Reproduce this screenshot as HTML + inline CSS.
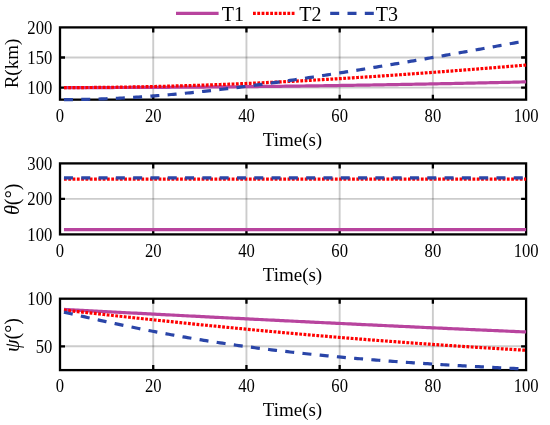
<!DOCTYPE html><html><head><meta charset="utf-8"><style>html,body{margin:0;padding:0;background:#fff;}svg{display:block;}text{font-family:"Liberation Serif","Times New Roman",serif;fill:#000;}</style></head><body>
<svg width="550" height="425" viewBox="0 0 550 425">
<rect width="550" height="425" fill="#fff"/>
<g stroke="rgba(40,40,40,0.24)" stroke-width="1.9" fill="none"><path d="M153.22,27.40V99.65"/><path d="M246.44,27.40V99.65"/><path d="M339.66,27.40V99.65"/><path d="M432.88,27.40V99.65"/><path d="M60.00,87.61H526.10"/><path d="M60.00,57.50H526.10"/></g>
<path d="M153.22,99.65V94.65M153.22,27.40V32.40M246.44,99.65V94.65M246.44,27.40V32.40M339.66,99.65V94.65M339.66,27.40V32.40M432.88,99.65V94.65M432.88,27.40V32.40M60.00,87.61H65.00M526.10,87.61H521.10M60.00,57.50H65.00M526.10,57.50H521.10" stroke="#000" stroke-width="2.3" fill="none"/>
<rect x="60.00" y="27.40" width="466.10" height="72.25" fill="none" stroke="#000" stroke-width="2.3"/>
<g fill="none" stroke-width="3.2">
<path d="M63.96,87.61 L66.29,87.61 L68.62,87.61 L70.95,87.61 L73.28,87.60 L75.61,87.60 L77.94,87.60 L80.28,87.60 L82.61,87.59 L84.94,87.59 L87.27,87.59 L89.60,87.58 L91.93,87.58 L94.26,87.58 L96.59,87.57 L98.92,87.57 L101.25,87.56 L103.58,87.56 L105.91,87.55 L108.24,87.54 L110.57,87.54 L112.90,87.53 L115.23,87.52 L117.56,87.52 L119.89,87.51 L122.22,87.50 L124.55,87.49 L126.89,87.49 L129.22,87.48 L131.55,87.47 L133.88,87.46 L136.21,87.45 L138.54,87.44 L140.87,87.43 L143.20,87.42 L145.53,87.41 L147.86,87.40 L150.19,87.38 L152.52,87.37 L154.85,87.36 L157.18,87.35 L159.51,87.34 L161.84,87.32 L164.17,87.31 L166.50,87.30 L168.83,87.28 L171.16,87.27 L173.50,87.25 L175.83,87.24 L178.16,87.22 L180.49,87.21 L182.82,87.19 L185.15,87.18 L187.48,87.16 L189.81,87.15 L192.14,87.13 L194.47,87.11 L196.80,87.09 L199.13,87.08 L201.46,87.06 L203.79,87.04 L206.12,87.02 L208.45,87.00 L210.78,86.98 L213.11,86.97 L215.44,86.95 L217.77,86.93 L220.11,86.91 L222.44,86.89 L224.77,86.86 L227.10,86.84 L229.43,86.82 L231.76,86.80 L234.09,86.78 L236.42,86.76 L238.75,86.73 L241.08,86.71 L243.41,86.69 L245.74,86.66 L248.07,86.64 L250.40,86.62 L252.73,86.59 L255.06,86.57 L257.39,86.54 L259.72,86.52 L262.05,86.49 L264.38,86.47 L266.72,86.44 L269.05,86.42 L271.38,86.39 L273.71,86.36 L276.04,86.34 L278.37,86.31 L280.70,86.28 L283.03,86.25 L285.36,86.22 L287.69,86.20 L290.02,86.17 L292.35,86.14 L294.68,86.11 L297.01,86.08 L299.34,86.05 L301.67,86.02 L304.00,85.99 L306.33,85.96 L308.66,85.93 L310.99,85.90 L313.33,85.86 L315.66,85.83 L317.99,85.80 L320.32,85.77 L322.65,85.74 L324.98,85.70 L327.31,85.67 L329.64,85.64 L331.97,85.60 L334.30,85.57 L336.63,85.53 L338.96,85.50 L341.29,85.47 L343.62,85.43 L345.95,85.40 L348.28,85.36 L350.61,85.32 L352.94,85.29 L355.27,85.25 L357.60,85.21 L359.94,85.18 L362.27,85.14 L364.60,85.10 L366.93,85.07 L369.26,85.03 L371.59,84.99 L373.92,84.95 L376.25,84.91 L378.58,84.87 L380.91,84.83 L383.24,84.79 L385.57,84.75 L387.90,84.71 L390.23,84.67 L392.56,84.63 L394.89,84.59 L397.22,84.55 L399.55,84.51 L401.88,84.47 L404.21,84.43 L406.55,84.38 L408.88,84.34 L411.21,84.30 L413.54,84.26 L415.87,84.21 L418.20,84.17 L420.53,84.13 L422.86,84.08 L425.19,84.04 L427.52,83.99 L429.85,83.95 L432.18,83.90 L434.51,83.86 L436.84,83.81 L439.17,83.77 L441.50,83.72 L443.83,83.68 L446.16,83.63 L448.49,83.58 L450.82,83.54 L453.16,83.49 L455.49,83.44 L457.82,83.39 L460.15,83.35 L462.48,83.30 L464.81,83.25 L467.14,83.20 L469.47,83.15 L471.80,83.10 L474.13,83.05 L476.46,83.00 L478.79,82.95 L481.12,82.90 L483.45,82.85 L485.78,82.80 L488.11,82.75 L490.44,82.70 L492.77,82.65 L495.10,82.60 L497.43,82.55 L499.77,82.49 L502.10,82.44 L504.43,82.39 L506.76,82.34 L509.09,82.28 L511.42,82.23 L513.75,82.18 L516.08,82.12 L518.41,82.07 L520.74,82.02 L523.07,81.96 L525.40,81.91 L526.10,81.89" stroke="#b8449e"/>
<path d="M63.96,87.61 L66.29,87.60 L68.62,87.60 L70.95,87.59 L73.28,87.59 L75.61,87.58 L77.94,87.57 L80.28,87.56 L82.61,87.55 L84.94,87.53 L87.27,87.52 L89.60,87.50 L91.93,87.48 L94.26,87.46 L96.59,87.44 L98.92,87.42 L101.25,87.40 L103.58,87.37 L105.91,87.35 L108.24,87.32 L110.57,87.29 L112.90,87.26 L115.23,87.23 L117.56,87.20 L119.89,87.17 L122.22,87.13 L124.55,87.10 L126.89,87.06 L129.22,87.02 L131.55,86.98 L133.88,86.94 L136.21,86.90 L138.54,86.85 L140.87,86.81 L143.20,86.76 L145.53,86.71 L147.86,86.66 L150.19,86.61 L152.52,86.56 L154.85,86.51 L157.18,86.45 L159.51,86.40 L161.84,86.34 L164.17,86.28 L166.50,86.22 L168.83,86.16 L171.16,86.10 L173.50,86.04 L175.83,85.97 L178.16,85.91 L180.49,85.84 L182.82,85.77 L185.15,85.71 L187.48,85.64 L189.81,85.56 L192.14,85.49 L194.47,85.42 L196.80,85.34 L199.13,85.27 L201.46,85.19 L203.79,85.11 L206.12,85.03 L208.45,84.95 L210.78,84.87 L213.11,84.78 L215.44,84.70 L217.77,84.61 L220.11,84.52 L222.44,84.44 L224.77,84.35 L227.10,84.26 L229.43,84.16 L231.76,84.07 L234.09,83.98 L236.42,83.88 L238.75,83.79 L241.08,83.69 L243.41,83.59 L245.74,83.49 L248.07,83.39 L250.40,83.29 L252.73,83.19 L255.06,83.08 L257.39,82.98 L259.72,82.87 L262.05,82.76 L264.38,82.66 L266.72,82.55 L269.05,82.44 L271.38,82.33 L273.71,82.21 L276.04,82.10 L278.37,81.99 L280.70,81.87 L283.03,81.75 L285.36,81.64 L287.69,81.52 L290.02,81.40 L292.35,81.28 L294.68,81.16 L297.01,81.03 L299.34,80.91 L301.67,80.79 L304.00,80.66 L306.33,80.54 L308.66,80.41 L310.99,80.28 L313.33,80.15 L315.66,80.02 L317.99,79.89 L320.32,79.76 L322.65,79.62 L324.98,79.49 L327.31,79.36 L329.64,79.22 L331.97,79.08 L334.30,78.95 L336.63,78.81 L338.96,78.67 L341.29,78.53 L343.62,78.39 L345.95,78.25 L348.28,78.10 L350.61,77.96 L352.94,77.81 L355.27,77.67 L357.60,77.52 L359.94,77.38 L362.27,77.23 L364.60,77.08 L366.93,76.93 L369.26,76.78 L371.59,76.63 L373.92,76.48 L376.25,76.32 L378.58,76.17 L380.91,76.02 L383.24,75.86 L385.57,75.70 L387.90,75.55 L390.23,75.39 L392.56,75.23 L394.89,75.07 L397.22,74.91 L399.55,74.75 L401.88,74.59 L404.21,74.43 L406.55,74.27 L408.88,74.10 L411.21,73.94 L413.54,73.77 L415.87,73.61 L418.20,73.44 L420.53,73.27 L422.86,73.11 L425.19,72.94 L427.52,72.77 L429.85,72.60 L432.18,72.43 L434.51,72.26 L436.84,72.08 L439.17,71.91 L441.50,71.74 L443.83,71.56 L446.16,71.39 L448.49,71.21 L450.82,71.04 L453.16,70.86 L455.49,70.68 L457.82,70.51 L460.15,70.33 L462.48,70.15 L464.81,69.97 L467.14,69.79 L469.47,69.61 L471.80,69.43 L474.13,69.24 L476.46,69.06 L478.79,68.88 L481.12,68.69 L483.45,68.51 L485.78,68.32 L488.11,68.14 L490.44,67.95 L492.77,67.77 L495.10,67.58 L497.43,67.39 L499.77,67.20 L502.10,67.01 L504.43,66.82 L506.76,66.63 L509.09,66.44 L511.42,66.25 L513.75,66.06 L516.08,65.87 L518.41,65.67 L520.74,65.48 L523.07,65.28 L525.40,65.09 L526.10,65.03" stroke="#ff0000" stroke-dasharray="2.8 1.5"/>
<path d="M63.96,99.64 L66.29,99.63 L68.62,99.62 L70.95,99.60 L73.28,99.57 L75.61,99.54 L77.94,99.51 L80.28,99.47 L82.61,99.43 L84.94,99.38 L87.27,99.33 L89.60,99.27 L91.93,99.21 L94.26,99.14 L96.59,99.07 L98.92,98.99 L101.25,98.91 L103.58,98.83 L105.91,98.74 L108.24,98.65 L110.57,98.55 L112.90,98.44 L115.23,98.34 L117.56,98.23 L119.89,98.11 L122.22,97.99 L124.55,97.87 L126.89,97.74 L129.22,97.60 L131.55,97.47 L133.88,97.33 L136.21,97.18 L138.54,97.03 L140.87,96.88 L143.20,96.72 L145.53,96.56 L147.86,96.39 L150.19,96.22 L152.52,96.05 L154.85,95.87 L157.18,95.69 L159.51,95.51 L161.84,95.32 L164.17,95.13 L166.50,94.93 L168.83,94.73 L171.16,94.53 L173.50,94.32 L175.83,94.12 L178.16,93.90 L180.49,93.69 L182.82,93.47 L185.15,93.24 L187.48,93.02 L189.81,92.79 L192.14,92.56 L194.47,92.32 L196.80,92.08 L199.13,91.84 L201.46,91.59 L203.79,91.35 L206.12,91.10 L208.45,90.84 L210.78,90.58 L213.11,90.33 L215.44,90.06 L217.77,89.80 L220.11,89.53 L222.44,89.26 L224.77,88.99 L227.10,88.71 L229.43,88.43 L231.76,88.15 L234.09,87.87 L236.42,87.58 L238.75,87.30 L241.08,87.01 L243.41,86.71 L245.74,86.42 L248.07,86.12 L250.40,85.82 L252.73,85.52 L255.06,85.21 L257.39,84.91 L259.72,84.60 L262.05,84.29 L264.38,83.98 L266.72,83.66 L269.05,83.35 L271.38,83.03 L273.71,82.71 L276.04,82.38 L278.37,82.06 L280.70,81.73 L283.03,81.41 L285.36,81.08 L287.69,80.74 L290.02,80.41 L292.35,80.08 L294.68,79.74 L297.01,79.40 L299.34,79.06 L301.67,78.72 L304.00,78.38 L306.33,78.03 L308.66,77.68 L310.99,77.34 L313.33,76.99 L315.66,76.64 L317.99,76.28 L320.32,75.93 L322.65,75.57 L324.98,75.22 L327.31,74.86 L329.64,74.50 L331.97,74.14 L334.30,73.78 L336.63,73.41 L338.96,73.05 L341.29,72.68 L343.62,72.31 L345.95,71.95 L348.28,71.58 L350.61,71.21 L352.94,70.83 L355.27,70.46 L357.60,70.09 L359.94,69.71 L362.27,69.33 L364.60,68.96 L366.93,68.58 L369.26,68.20 L371.59,67.82 L373.92,67.43 L376.25,67.05 L378.58,66.67 L380.91,66.28 L383.24,65.90 L385.57,65.51 L387.90,65.12 L390.23,64.73 L392.56,64.34 L394.89,63.95 L397.22,63.56 L399.55,63.17 L401.88,62.77 L404.21,62.38 L406.55,61.99 L408.88,61.59 L411.21,61.19 L413.54,60.80 L415.87,60.40 L418.20,60.00 L420.53,59.60 L422.86,59.20 L425.19,58.80 L427.52,58.39 L429.85,57.99 L432.18,57.59 L434.51,57.18 L436.84,56.78 L439.17,56.37 L441.50,55.97 L443.83,55.56 L446.16,55.15 L448.49,54.74 L450.82,54.33 L453.16,53.92 L455.49,53.51 L457.82,53.10 L460.15,52.69 L462.48,52.28 L464.81,51.87 L467.14,51.45 L469.47,51.04 L471.80,50.62 L474.13,50.21 L476.46,49.79 L478.79,49.38 L481.12,48.96 L483.45,48.54 L485.78,48.12 L488.11,47.70 L490.44,47.29 L492.77,46.87 L495.10,46.45 L497.43,46.03 L499.77,45.60 L502.10,45.18 L504.43,44.76 L506.76,44.34 L509.09,43.91 L511.42,43.49 L513.75,43.07 L516.08,42.64 L518.41,42.22 L520.74,41.79 L523.07,41.37 L525.40,40.94 L526.10,40.81" stroke="#2a45a8" stroke-dasharray="9 8.3"/>
</g>
<text transform="translate(60.00,121.85) scale(0.95,1.05)" font-size="17.5" text-anchor="middle">0</text>
<text transform="translate(153.22,121.85) scale(0.95,1.05)" font-size="17.5" text-anchor="middle">20</text>
<text transform="translate(246.44,121.85) scale(0.95,1.05)" font-size="17.5" text-anchor="middle">40</text>
<text transform="translate(339.66,121.85) scale(0.95,1.05)" font-size="17.5" text-anchor="middle">60</text>
<text transform="translate(432.88,121.85) scale(0.95,1.05)" font-size="17.5" text-anchor="middle">80</text>
<text transform="translate(526.10,121.85) scale(0.95,1.05)" font-size="17.5" text-anchor="middle">100</text>
<text transform="translate(52.30,93.91) scale(0.95,1.05)" font-size="17.5" text-anchor="end">100</text>
<text transform="translate(52.30,63.80) scale(0.95,1.05)" font-size="17.5" text-anchor="end">150</text>
<text transform="translate(52.30,33.70) scale(0.95,1.05)" font-size="17.5" text-anchor="end">200</text>
<text x="292.45" y="145.95" font-size="19" text-anchor="middle">Time(s)</text>
<text transform="translate(18.20,63.53) rotate(-90)" font-size="19" text-anchor="middle">R(km)</text>
<g stroke="rgba(40,40,40,0.24)" stroke-width="1.9" fill="none"><path d="M153.22,163.40V234.40"/><path d="M246.44,163.40V234.40"/><path d="M339.66,163.40V234.40"/><path d="M432.88,163.40V234.40"/><path d="M60.00,198.90H526.10"/></g>
<path d="M153.22,234.40V229.40M153.22,163.40V168.40M246.44,234.40V229.40M246.44,163.40V168.40M339.66,234.40V229.40M339.66,163.40V168.40M432.88,234.40V229.40M432.88,163.40V168.40M60.00,198.90H65.00M526.10,198.90H521.10" stroke="#000" stroke-width="2.3" fill="none"/>
<rect x="60.00" y="163.40" width="466.10" height="71.00" fill="none" stroke="#000" stroke-width="2.3"/>
<g fill="none" stroke-width="3.2">
<path d="M63.96,229.57 L66.29,229.57 L68.62,229.57 L70.95,229.57 L73.28,229.57 L75.61,229.57 L77.94,229.57 L80.28,229.57 L82.61,229.57 L84.94,229.57 L87.27,229.57 L89.60,229.57 L91.93,229.57 L94.26,229.57 L96.59,229.57 L98.92,229.57 L101.25,229.57 L103.58,229.57 L105.91,229.57 L108.24,229.57 L110.57,229.57 L112.90,229.57 L115.23,229.57 L117.56,229.57 L119.89,229.57 L122.22,229.57 L124.55,229.57 L126.89,229.57 L129.22,229.57 L131.55,229.57 L133.88,229.57 L136.21,229.57 L138.54,229.57 L140.87,229.57 L143.20,229.57 L145.53,229.57 L147.86,229.57 L150.19,229.57 L152.52,229.57 L154.85,229.57 L157.18,229.57 L159.51,229.57 L161.84,229.57 L164.17,229.57 L166.50,229.57 L168.83,229.57 L171.16,229.57 L173.50,229.57 L175.83,229.57 L178.16,229.57 L180.49,229.57 L182.82,229.57 L185.15,229.57 L187.48,229.57 L189.81,229.57 L192.14,229.57 L194.47,229.57 L196.80,229.57 L199.13,229.57 L201.46,229.57 L203.79,229.57 L206.12,229.57 L208.45,229.57 L210.78,229.57 L213.11,229.57 L215.44,229.57 L217.77,229.57 L220.11,229.57 L222.44,229.57 L224.77,229.57 L227.10,229.57 L229.43,229.57 L231.76,229.57 L234.09,229.57 L236.42,229.57 L238.75,229.57 L241.08,229.57 L243.41,229.57 L245.74,229.57 L248.07,229.57 L250.40,229.57 L252.73,229.57 L255.06,229.57 L257.39,229.57 L259.72,229.57 L262.05,229.57 L264.38,229.57 L266.72,229.57 L269.05,229.57 L271.38,229.57 L273.71,229.57 L276.04,229.57 L278.37,229.57 L280.70,229.57 L283.03,229.57 L285.36,229.57 L287.69,229.57 L290.02,229.57 L292.35,229.57 L294.68,229.57 L297.01,229.57 L299.34,229.57 L301.67,229.57 L304.00,229.57 L306.33,229.57 L308.66,229.57 L310.99,229.57 L313.33,229.57 L315.66,229.57 L317.99,229.57 L320.32,229.57 L322.65,229.57 L324.98,229.57 L327.31,229.57 L329.64,229.57 L331.97,229.57 L334.30,229.57 L336.63,229.57 L338.96,229.57 L341.29,229.57 L343.62,229.57 L345.95,229.57 L348.28,229.57 L350.61,229.57 L352.94,229.57 L355.27,229.57 L357.60,229.57 L359.94,229.57 L362.27,229.57 L364.60,229.57 L366.93,229.57 L369.26,229.57 L371.59,229.57 L373.92,229.57 L376.25,229.57 L378.58,229.57 L380.91,229.57 L383.24,229.57 L385.57,229.57 L387.90,229.57 L390.23,229.57 L392.56,229.57 L394.89,229.57 L397.22,229.57 L399.55,229.57 L401.88,229.57 L404.21,229.57 L406.55,229.57 L408.88,229.57 L411.21,229.57 L413.54,229.57 L415.87,229.57 L418.20,229.57 L420.53,229.57 L422.86,229.57 L425.19,229.57 L427.52,229.57 L429.85,229.57 L432.18,229.57 L434.51,229.57 L436.84,229.57 L439.17,229.57 L441.50,229.57 L443.83,229.57 L446.16,229.57 L448.49,229.57 L450.82,229.57 L453.16,229.57 L455.49,229.57 L457.82,229.57 L460.15,229.57 L462.48,229.57 L464.81,229.57 L467.14,229.57 L469.47,229.57 L471.80,229.57 L474.13,229.57 L476.46,229.57 L478.79,229.57 L481.12,229.57 L483.45,229.57 L485.78,229.57 L488.11,229.57 L490.44,229.57 L492.77,229.57 L495.10,229.57 L497.43,229.57 L499.77,229.57 L502.10,229.57 L504.43,229.57 L506.76,229.57 L509.09,229.57 L511.42,229.57 L513.75,229.57 L516.08,229.57 L518.41,229.57 L520.74,229.57 L523.07,229.57 L525.40,229.57 L526.10,229.57" stroke="#b8449e"/>
<path d="M63.96,179.06 L66.29,179.06 L68.62,179.06 L70.95,179.06 L73.28,179.06 L75.61,179.06 L77.94,179.06 L80.28,179.06 L82.61,179.06 L84.94,179.06 L87.27,179.06 L89.60,179.06 L91.93,179.06 L94.26,179.06 L96.59,179.06 L98.92,179.06 L101.25,179.06 L103.58,179.06 L105.91,179.06 L108.24,179.06 L110.57,179.06 L112.90,179.06 L115.23,179.06 L117.56,179.06 L119.89,179.06 L122.22,179.06 L124.55,179.06 L126.89,179.06 L129.22,179.06 L131.55,179.06 L133.88,179.06 L136.21,179.06 L138.54,179.06 L140.87,179.06 L143.20,179.06 L145.53,179.06 L147.86,179.06 L150.19,179.06 L152.52,179.06 L154.85,179.06 L157.18,179.06 L159.51,179.06 L161.84,179.06 L164.17,179.06 L166.50,179.06 L168.83,179.06 L171.16,179.06 L173.50,179.06 L175.83,179.06 L178.16,179.06 L180.49,179.06 L182.82,179.06 L185.15,179.06 L187.48,179.06 L189.81,179.06 L192.14,179.06 L194.47,179.06 L196.80,179.06 L199.13,179.06 L201.46,179.06 L203.79,179.06 L206.12,179.06 L208.45,179.06 L210.78,179.06 L213.11,179.06 L215.44,179.06 L217.77,179.06 L220.11,179.06 L222.44,179.06 L224.77,179.06 L227.10,179.06 L229.43,179.06 L231.76,179.06 L234.09,179.06 L236.42,179.06 L238.75,179.06 L241.08,179.06 L243.41,179.06 L245.74,179.06 L248.07,179.06 L250.40,179.06 L252.73,179.06 L255.06,179.06 L257.39,179.06 L259.72,179.06 L262.05,179.06 L264.38,179.06 L266.72,179.06 L269.05,179.06 L271.38,179.06 L273.71,179.06 L276.04,179.06 L278.37,179.06 L280.70,179.06 L283.03,179.06 L285.36,179.06 L287.69,179.06 L290.02,179.06 L292.35,179.06 L294.68,179.06 L297.01,179.06 L299.34,179.06 L301.67,179.06 L304.00,179.06 L306.33,179.06 L308.66,179.06 L310.99,179.06 L313.33,179.06 L315.66,179.06 L317.99,179.06 L320.32,179.06 L322.65,179.06 L324.98,179.06 L327.31,179.06 L329.64,179.06 L331.97,179.06 L334.30,179.06 L336.63,179.06 L338.96,179.06 L341.29,179.06 L343.62,179.06 L345.95,179.06 L348.28,179.06 L350.61,179.06 L352.94,179.06 L355.27,179.06 L357.60,179.06 L359.94,179.06 L362.27,179.06 L364.60,179.06 L366.93,179.06 L369.26,179.06 L371.59,179.06 L373.92,179.06 L376.25,179.06 L378.58,179.06 L380.91,179.06 L383.24,179.06 L385.57,179.06 L387.90,179.06 L390.23,179.06 L392.56,179.06 L394.89,179.06 L397.22,179.06 L399.55,179.06 L401.88,179.06 L404.21,179.06 L406.55,179.06 L408.88,179.06 L411.21,179.06 L413.54,179.06 L415.87,179.06 L418.20,179.06 L420.53,179.06 L422.86,179.06 L425.19,179.06 L427.52,179.06 L429.85,179.06 L432.18,179.06 L434.51,179.06 L436.84,179.06 L439.17,179.06 L441.50,179.06 L443.83,179.06 L446.16,179.06 L448.49,179.06 L450.82,179.06 L453.16,179.06 L455.49,179.06 L457.82,179.06 L460.15,179.06 L462.48,179.06 L464.81,179.06 L467.14,179.06 L469.47,179.06 L471.80,179.06 L474.13,179.06 L476.46,179.06 L478.79,179.06 L481.12,179.06 L483.45,179.06 L485.78,179.06 L488.11,179.06 L490.44,179.06 L492.77,179.06 L495.10,179.06 L497.43,179.06 L499.77,179.06 L502.10,179.06 L504.43,179.06 L506.76,179.06 L509.09,179.06 L511.42,179.06 L513.75,179.06 L516.08,179.06 L518.41,179.06 L520.74,179.06 L523.07,179.06 L525.40,179.06 L526.10,179.06" stroke="#ff0000" stroke-dasharray="2.8 1.5"/>
<path d="M63.96,177.85 L66.29,177.85 L68.62,177.85 L70.95,177.85 L73.28,177.85 L75.61,177.85 L77.94,177.85 L80.28,177.85 L82.61,177.85 L84.94,177.85 L87.27,177.85 L89.60,177.85 L91.93,177.85 L94.26,177.85 L96.59,177.85 L98.92,177.85 L101.25,177.85 L103.58,177.85 L105.91,177.85 L108.24,177.85 L110.57,177.85 L112.90,177.85 L115.23,177.85 L117.56,177.85 L119.89,177.85 L122.22,177.85 L124.55,177.85 L126.89,177.85 L129.22,177.85 L131.55,177.85 L133.88,177.85 L136.21,177.85 L138.54,177.85 L140.87,177.85 L143.20,177.85 L145.53,177.85 L147.86,177.85 L150.19,177.85 L152.52,177.85 L154.85,177.85 L157.18,177.85 L159.51,177.85 L161.84,177.85 L164.17,177.85 L166.50,177.85 L168.83,177.85 L171.16,177.85 L173.50,177.85 L175.83,177.85 L178.16,177.85 L180.49,177.85 L182.82,177.85 L185.15,177.85 L187.48,177.85 L189.81,177.85 L192.14,177.85 L194.47,177.85 L196.80,177.85 L199.13,177.85 L201.46,177.85 L203.79,177.85 L206.12,177.85 L208.45,177.85 L210.78,177.85 L213.11,177.85 L215.44,177.85 L217.77,177.85 L220.11,177.85 L222.44,177.85 L224.77,177.85 L227.10,177.85 L229.43,177.85 L231.76,177.85 L234.09,177.85 L236.42,177.85 L238.75,177.85 L241.08,177.85 L243.41,177.85 L245.74,177.85 L248.07,177.85 L250.40,177.85 L252.73,177.85 L255.06,177.85 L257.39,177.85 L259.72,177.85 L262.05,177.85 L264.38,177.85 L266.72,177.85 L269.05,177.85 L271.38,177.85 L273.71,177.85 L276.04,177.85 L278.37,177.85 L280.70,177.85 L283.03,177.85 L285.36,177.85 L287.69,177.85 L290.02,177.85 L292.35,177.85 L294.68,177.85 L297.01,177.85 L299.34,177.85 L301.67,177.85 L304.00,177.85 L306.33,177.85 L308.66,177.85 L310.99,177.85 L313.33,177.85 L315.66,177.85 L317.99,177.85 L320.32,177.85 L322.65,177.85 L324.98,177.85 L327.31,177.85 L329.64,177.85 L331.97,177.85 L334.30,177.85 L336.63,177.85 L338.96,177.85 L341.29,177.85 L343.62,177.85 L345.95,177.85 L348.28,177.85 L350.61,177.85 L352.94,177.85 L355.27,177.85 L357.60,177.85 L359.94,177.85 L362.27,177.85 L364.60,177.85 L366.93,177.85 L369.26,177.85 L371.59,177.85 L373.92,177.85 L376.25,177.85 L378.58,177.85 L380.91,177.85 L383.24,177.85 L385.57,177.85 L387.90,177.85 L390.23,177.85 L392.56,177.85 L394.89,177.85 L397.22,177.85 L399.55,177.85 L401.88,177.85 L404.21,177.85 L406.55,177.85 L408.88,177.85 L411.21,177.85 L413.54,177.85 L415.87,177.85 L418.20,177.85 L420.53,177.85 L422.86,177.85 L425.19,177.85 L427.52,177.85 L429.85,177.85 L432.18,177.85 L434.51,177.85 L436.84,177.85 L439.17,177.85 L441.50,177.85 L443.83,177.85 L446.16,177.85 L448.49,177.85 L450.82,177.85 L453.16,177.85 L455.49,177.85 L457.82,177.85 L460.15,177.85 L462.48,177.85 L464.81,177.85 L467.14,177.85 L469.47,177.85 L471.80,177.85 L474.13,177.85 L476.46,177.85 L478.79,177.85 L481.12,177.85 L483.45,177.85 L485.78,177.85 L488.11,177.85 L490.44,177.85 L492.77,177.85 L495.10,177.85 L497.43,177.85 L499.77,177.85 L502.10,177.85 L504.43,177.85 L506.76,177.85 L509.09,177.85 L511.42,177.85 L513.75,177.85 L516.08,177.85 L518.41,177.85 L520.74,177.85 L523.07,177.85 L525.40,177.85 L526.10,177.85" stroke="#2a45a8" stroke-dasharray="9 8.3"/>
</g>
<text transform="translate(60.00,256.60) scale(0.95,1.05)" font-size="17.5" text-anchor="middle">0</text>
<text transform="translate(153.22,256.60) scale(0.95,1.05)" font-size="17.5" text-anchor="middle">20</text>
<text transform="translate(246.44,256.60) scale(0.95,1.05)" font-size="17.5" text-anchor="middle">40</text>
<text transform="translate(339.66,256.60) scale(0.95,1.05)" font-size="17.5" text-anchor="middle">60</text>
<text transform="translate(432.88,256.60) scale(0.95,1.05)" font-size="17.5" text-anchor="middle">80</text>
<text transform="translate(526.10,256.60) scale(0.95,1.05)" font-size="17.5" text-anchor="middle">100</text>
<text transform="translate(52.30,240.70) scale(0.95,1.05)" font-size="17.5" text-anchor="end">100</text>
<text transform="translate(52.30,205.20) scale(0.95,1.05)" font-size="17.5" text-anchor="end">200</text>
<text transform="translate(52.30,169.70) scale(0.95,1.05)" font-size="17.5" text-anchor="end">300</text>
<text x="292.45" y="280.70" font-size="19" text-anchor="middle">Time(s)</text>
<text transform="translate(18.80,199.30) rotate(-90)" font-size="20.3" text-anchor="middle"><tspan font-style="italic">&#952;</tspan>(&#176;)</text>
<g stroke="rgba(40,40,40,0.24)" stroke-width="1.9" fill="none"><path d="M153.22,298.70V370.10"/><path d="M246.44,298.70V370.10"/><path d="M339.66,298.70V370.10"/><path d="M432.88,298.70V370.10"/><path d="M60.00,346.30H526.10"/></g>
<path d="M153.22,370.10V365.10M153.22,298.70V303.70M246.44,370.10V365.10M246.44,298.70V303.70M339.66,370.10V365.10M339.66,298.70V303.70M432.88,370.10V365.10M432.88,298.70V303.70M60.00,346.30H65.00M526.10,346.30H521.10" stroke="#000" stroke-width="2.3" fill="none"/>
<rect x="60.00" y="298.70" width="466.10" height="71.40" fill="none" stroke="#000" stroke-width="2.3"/>
<g fill="none" stroke-width="3.2">
<path d="M63.96,309.46 L66.29,309.58 L68.62,309.71 L70.95,309.83 L73.28,309.95 L75.61,310.07 L77.94,310.19 L80.28,310.31 L82.61,310.44 L84.94,310.56 L87.27,310.68 L89.60,310.80 L91.93,310.92 L94.26,311.04 L96.59,311.16 L98.92,311.28 L101.25,311.41 L103.58,311.53 L105.91,311.65 L108.24,311.77 L110.57,311.89 L112.90,312.01 L115.23,312.13 L117.56,312.25 L119.89,312.37 L122.22,312.50 L124.55,312.62 L126.89,312.74 L129.22,312.86 L131.55,312.98 L133.88,313.10 L136.21,313.22 L138.54,313.34 L140.87,313.46 L143.20,313.58 L145.53,313.70 L147.86,313.82 L150.19,313.94 L152.52,314.06 L154.85,314.18 L157.18,314.30 L159.51,314.42 L161.84,314.54 L164.17,314.66 L166.50,314.78 L168.83,314.90 L171.16,315.02 L173.50,315.14 L175.83,315.26 L178.16,315.38 L180.49,315.50 L182.82,315.62 L185.15,315.74 L187.48,315.86 L189.81,315.98 L192.14,316.10 L194.47,316.22 L196.80,316.34 L199.13,316.45 L201.46,316.57 L203.79,316.69 L206.12,316.81 L208.45,316.93 L210.78,317.05 L213.11,317.17 L215.44,317.29 L217.77,317.40 L220.11,317.52 L222.44,317.64 L224.77,317.76 L227.10,317.88 L229.43,317.99 L231.76,318.11 L234.09,318.23 L236.42,318.35 L238.75,318.46 L241.08,318.58 L243.41,318.70 L245.74,318.82 L248.07,318.93 L250.40,319.05 L252.73,319.17 L255.06,319.28 L257.39,319.40 L259.72,319.52 L262.05,319.63 L264.38,319.75 L266.72,319.87 L269.05,319.98 L271.38,320.10 L273.71,320.21 L276.04,320.33 L278.37,320.44 L280.70,320.56 L283.03,320.68 L285.36,320.79 L287.69,320.91 L290.02,321.02 L292.35,321.14 L294.68,321.25 L297.01,321.37 L299.34,321.48 L301.67,321.60 L304.00,321.71 L306.33,321.82 L308.66,321.94 L310.99,322.05 L313.33,322.17 L315.66,322.28 L317.99,322.39 L320.32,322.51 L322.65,322.62 L324.98,322.73 L327.31,322.85 L329.64,322.96 L331.97,323.07 L334.30,323.19 L336.63,323.30 L338.96,323.41 L341.29,323.52 L343.62,323.64 L345.95,323.75 L348.28,323.86 L350.61,323.97 L352.94,324.08 L355.27,324.19 L357.60,324.31 L359.94,324.42 L362.27,324.53 L364.60,324.64 L366.93,324.75 L369.26,324.86 L371.59,324.97 L373.92,325.08 L376.25,325.19 L378.58,325.30 L380.91,325.41 L383.24,325.52 L385.57,325.63 L387.90,325.74 L390.23,325.85 L392.56,325.96 L394.89,326.07 L397.22,326.18 L399.55,326.29 L401.88,326.40 L404.21,326.50 L406.55,326.61 L408.88,326.72 L411.21,326.83 L413.54,326.94 L415.87,327.05 L418.20,327.15 L420.53,327.26 L422.86,327.37 L425.19,327.48 L427.52,327.58 L429.85,327.69 L432.18,327.80 L434.51,327.90 L436.84,328.01 L439.17,328.11 L441.50,328.22 L443.83,328.33 L446.16,328.43 L448.49,328.54 L450.82,328.64 L453.16,328.75 L455.49,328.85 L457.82,328.96 L460.15,329.06 L462.48,329.17 L464.81,329.27 L467.14,329.38 L469.47,329.48 L471.80,329.59 L474.13,329.69 L476.46,329.79 L478.79,329.90 L481.12,330.00 L483.45,330.10 L485.78,330.21 L488.11,330.31 L490.44,330.41 L492.77,330.51 L495.10,330.62 L497.43,330.72 L499.77,330.82 L502.10,330.92 L504.43,331.02 L506.76,331.13 L509.09,331.23 L511.42,331.33 L513.75,331.43 L516.08,331.53 L518.41,331.63 L520.74,331.73 L523.07,331.83 L525.40,331.93 L526.10,331.96" stroke="#b8449e"/>
<path d="M63.96,310.13 L66.29,310.39 L68.62,310.64 L70.95,310.90 L73.28,311.16 L75.61,311.41 L77.94,311.67 L80.28,311.93 L82.61,312.18 L84.94,312.44 L87.27,312.69 L89.60,312.95 L91.93,313.20 L94.26,313.46 L96.59,313.71 L98.92,313.97 L101.25,314.22 L103.58,314.48 L105.91,314.73 L108.24,314.99 L110.57,315.24 L112.90,315.49 L115.23,315.74 L117.56,316.00 L119.89,316.25 L122.22,316.50 L124.55,316.75 L126.89,317.00 L129.22,317.25 L131.55,317.50 L133.88,317.75 L136.21,318.00 L138.54,318.25 L140.87,318.50 L143.20,318.75 L145.53,319.00 L147.86,319.24 L150.19,319.49 L152.52,319.74 L154.85,319.98 L157.18,320.23 L159.51,320.47 L161.84,320.72 L164.17,320.96 L166.50,321.20 L168.83,321.45 L171.16,321.69 L173.50,321.93 L175.83,322.17 L178.16,322.41 L180.49,322.65 L182.82,322.89 L185.15,323.13 L187.48,323.37 L189.81,323.61 L192.14,323.84 L194.47,324.08 L196.80,324.32 L199.13,324.55 L201.46,324.79 L203.79,325.02 L206.12,325.25 L208.45,325.49 L210.78,325.72 L213.11,325.95 L215.44,326.18 L217.77,326.41 L220.11,326.64 L222.44,326.87 L224.77,327.10 L227.10,327.32 L229.43,327.55 L231.76,327.78 L234.09,328.00 L236.42,328.23 L238.75,328.45 L241.08,328.67 L243.41,328.90 L245.74,329.12 L248.07,329.34 L250.40,329.56 L252.73,329.78 L255.06,330.00 L257.39,330.22 L259.72,330.43 L262.05,330.65 L264.38,330.87 L266.72,331.08 L269.05,331.30 L271.38,331.51 L273.71,331.72 L276.04,331.93 L278.37,332.15 L280.70,332.36 L283.03,332.57 L285.36,332.78 L287.69,332.98 L290.02,333.19 L292.35,333.40 L294.68,333.60 L297.01,333.81 L299.34,334.01 L301.67,334.22 L304.00,334.42 L306.33,334.62 L308.66,334.82 L310.99,335.02 L313.33,335.22 L315.66,335.42 L317.99,335.62 L320.32,335.82 L322.65,336.01 L324.98,336.21 L327.31,336.40 L329.64,336.60 L331.97,336.79 L334.30,336.98 L336.63,337.18 L338.96,337.37 L341.29,337.56 L343.62,337.75 L345.95,337.94 L348.28,338.12 L350.61,338.31 L352.94,338.50 L355.27,338.68 L357.60,338.87 L359.94,339.05 L362.27,339.23 L364.60,339.42 L366.93,339.60 L369.26,339.78 L371.59,339.96 L373.92,340.14 L376.25,340.32 L378.58,340.49 L380.91,340.67 L383.24,340.85 L385.57,341.02 L387.90,341.20 L390.23,341.37 L392.56,341.54 L394.89,341.72 L397.22,341.89 L399.55,342.06 L401.88,342.23 L404.21,342.40 L406.55,342.57 L408.88,342.73 L411.21,342.90 L413.54,343.07 L415.87,343.23 L418.20,343.40 L420.53,343.56 L422.86,343.73 L425.19,343.89 L427.52,344.05 L429.85,344.21 L432.18,344.37 L434.51,344.53 L436.84,344.69 L439.17,344.85 L441.50,345.00 L443.83,345.16 L446.16,345.32 L448.49,345.47 L450.82,345.63 L453.16,345.78 L455.49,345.93 L457.82,346.09 L460.15,346.24 L462.48,346.39 L464.81,346.54 L467.14,346.69 L469.47,346.84 L471.80,346.99 L474.13,347.13 L476.46,347.28 L478.79,347.43 L481.12,347.57 L483.45,347.72 L485.78,347.86 L488.11,348.00 L490.44,348.15 L492.77,348.29 L495.10,348.43 L497.43,348.57 L499.77,348.71 L502.10,348.85 L504.43,348.99 L506.76,349.13 L509.09,349.26 L511.42,349.40 L513.75,349.54 L516.08,349.67 L518.41,349.81 L520.74,349.94 L523.07,350.08 L525.40,350.21 L526.10,350.25" stroke="#ff0000" stroke-dasharray="2.8 1.5"/>
<path d="M63.96,312.13 L66.29,312.67 L68.62,313.21 L70.95,313.74 L73.28,314.28 L75.61,314.81 L77.94,315.35 L80.28,315.88 L82.61,316.41 L84.94,316.93 L87.27,317.46 L89.60,317.99 L91.93,318.51 L94.26,319.03 L96.59,319.55 L98.92,320.07 L101.25,320.58 L103.58,321.09 L105.91,321.60 L108.24,322.11 L110.57,322.62 L112.90,323.12 L115.23,323.62 L117.56,324.12 L119.89,324.61 L122.22,325.10 L124.55,325.59 L126.89,326.08 L129.22,326.56 L131.55,327.04 L133.88,327.52 L136.21,328.00 L138.54,328.47 L140.87,328.94 L143.20,329.40 L145.53,329.86 L147.86,330.32 L150.19,330.78 L152.52,331.23 L154.85,331.68 L157.18,332.12 L159.51,332.57 L161.84,333.00 L164.17,333.44 L166.50,333.87 L168.83,334.30 L171.16,334.72 L173.50,335.14 L175.83,335.56 L178.16,335.98 L180.49,336.39 L182.82,336.80 L185.15,337.20 L187.48,337.60 L189.81,338.00 L192.14,338.39 L194.47,338.78 L196.80,339.17 L199.13,339.55 L201.46,339.93 L203.79,340.31 L206.12,340.68 L208.45,341.05 L210.78,341.41 L213.11,341.78 L215.44,342.13 L217.77,342.49 L220.11,342.84 L222.44,343.19 L224.77,343.54 L227.10,343.88 L229.43,344.22 L231.76,344.56 L234.09,344.89 L236.42,345.22 L238.75,345.54 L241.08,345.87 L243.41,346.19 L245.74,346.50 L248.07,346.82 L250.40,347.13 L252.73,347.44 L255.06,347.74 L257.39,348.04 L259.72,348.34 L262.05,348.64 L264.38,348.93 L266.72,349.22 L269.05,349.51 L271.38,349.79 L273.71,350.08 L276.04,350.35 L278.37,350.63 L280.70,350.90 L283.03,351.17 L285.36,351.44 L287.69,351.71 L290.02,351.97 L292.35,352.23 L294.68,352.49 L297.01,352.74 L299.34,353.00 L301.67,353.25 L304.00,353.49 L306.33,353.74 L308.66,353.98 L310.99,354.22 L313.33,354.46 L315.66,354.70 L317.99,354.93 L320.32,355.16 L322.65,355.39 L324.98,355.62 L327.31,355.84 L329.64,356.06 L331.97,356.28 L334.30,356.50 L336.63,356.72 L338.96,356.93 L341.29,357.14 L343.62,357.35 L345.95,357.56 L348.28,357.77 L350.61,357.97 L352.94,358.17 L355.27,358.37 L357.60,358.57 L359.94,358.76 L362.27,358.96 L364.60,359.15 L366.93,359.34 L369.26,359.53 L371.59,359.72 L373.92,359.90 L376.25,360.09 L378.58,360.27 L380.91,360.45 L383.24,360.63 L385.57,360.80 L387.90,360.98 L390.23,361.15 L392.56,361.32 L394.89,361.49 L397.22,361.66 L399.55,361.83 L401.88,362.00 L404.21,362.16 L406.55,362.32 L408.88,362.48 L411.21,362.64 L413.54,362.80 L415.87,362.96 L418.20,363.11 L420.53,363.27 L422.86,363.42 L425.19,363.57 L427.52,363.72 L429.85,363.87 L432.18,364.02 L434.51,364.16 L436.84,364.31 L439.17,364.45 L441.50,364.60 L443.83,364.74 L446.16,364.88 L448.49,365.01 L450.82,365.15 L453.16,365.29 L455.49,365.42 L457.82,365.56 L460.15,365.69 L462.48,365.82 L464.81,365.95 L467.14,366.08 L469.47,366.21 L471.80,366.34 L474.13,366.46 L476.46,366.59 L478.79,366.71 L481.12,366.84 L483.45,366.96 L485.78,367.08 L488.11,367.20 L490.44,367.32 L492.77,367.44 L495.10,367.55 L497.43,367.67 L499.77,367.79 L502.10,367.90 L504.43,368.01 L506.76,368.13 L509.09,368.24 L511.42,368.35 L513.75,368.46 L516.08,368.57 L518.41,368.68 L520.74,368.78 L523.07,368.89 L525.40,368.99 L526.10,369.03" stroke="#2a45a8" stroke-dasharray="9 8.3"/>
</g>
<text transform="translate(60.00,392.30) scale(0.95,1.05)" font-size="17.5" text-anchor="middle">0</text>
<text transform="translate(153.22,392.30) scale(0.95,1.05)" font-size="17.5" text-anchor="middle">20</text>
<text transform="translate(246.44,392.30) scale(0.95,1.05)" font-size="17.5" text-anchor="middle">40</text>
<text transform="translate(339.66,392.30) scale(0.95,1.05)" font-size="17.5" text-anchor="middle">60</text>
<text transform="translate(432.88,392.30) scale(0.95,1.05)" font-size="17.5" text-anchor="middle">80</text>
<text transform="translate(526.10,392.30) scale(0.95,1.05)" font-size="17.5" text-anchor="middle">100</text>
<text transform="translate(52.30,352.60) scale(0.95,1.05)" font-size="17.5" text-anchor="end">50</text>
<text transform="translate(52.30,305.00) scale(0.95,1.05)" font-size="17.5" text-anchor="end">100</text>
<text x="292.45" y="416.40" font-size="19" text-anchor="middle">Time(s)</text>
<text transform="translate(18.80,335.00) rotate(-90)" font-size="20.3" text-anchor="middle"><tspan font-style="italic">&#968;</tspan>(&#176;)</text>
<path d="M176.00,13.40H218.60" stroke="#b8449e" stroke-width="3.2"/>
<text x="221.80" y="20.8" font-size="20">T1</text>
<path d="M253.00,13.40H296.00" stroke="#ff0000" stroke-width="3.2" stroke-dasharray="2.8 1.5"/>
<text x="299.30" y="20.8" font-size="20">T2</text>
<path d="M330.20,13.40H374.00" stroke="#2a45a8" stroke-width="3.2" stroke-dasharray="9 8.3"/>
<text x="375.80" y="20.8" font-size="20">T3</text>
</svg></body></html>
